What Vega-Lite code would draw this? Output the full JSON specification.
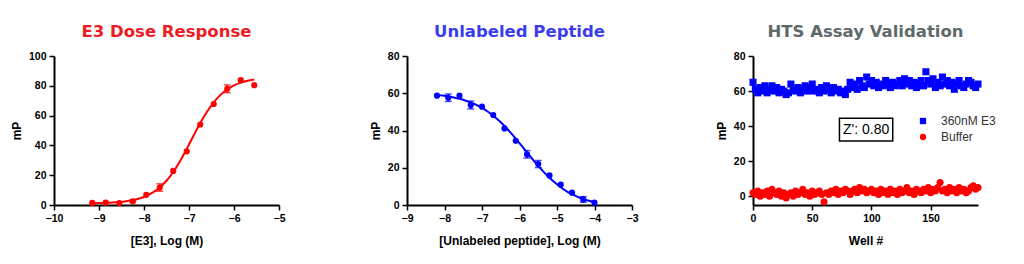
{
  "$schema": "https://vega.github.io/schema/vega-lite/v6.json",
  "background": "white",
  "padding": {"left": 10, "top": 23, "right": 5, "bottom": 5},
  "bounds": "flush",
  "spacing": 128,
  "config": {
    "view": {"stroke": null},
    "font": "Liberation Sans",
    "axis": {"grid": false, "tickCount": 20, "format": "d", "labelOverlap": false, "labelFlush": false, "domainColor": "black", "domainWidth": 2, "tickColor": "black", "tickWidth": 1.5, "tickSize": 5, "labelFont": "Liberation Sans", "labelFontSize": 10.5, "labelFontWeight": "bold", "labelColor": "black", "labelPadding": 3, "titleFont": "Liberation Sans", "titleFontSize": 12, "titleFontWeight": "bold", "titleColor": "black"},
    "axisX": {"titlePadding": 12},
    "axisY": {"titlePadding": 5},
    "title": {"font": "DejaVu Sans", "fontSize": 16.5, "fontWeight": "bold", "offset": 11}
  },
  "datasets": {
    "e3": [
      {"logM": -9.15, "mP": 1.4},
      {"logM": -8.85, "mP": 1.6},
      {"logM": -8.55, "mP": 1.3},
      {"logM": -8.25, "mP": 2.5, "lo": 1.7, "hi": 3.3},
      {"logM": -7.95, "mP": 6.8},
      {"logM": -7.65, "mP": 11.7, "lo": 9.2, "hi": 14.2},
      {"logM": -7.35, "mP": 22.9},
      {"logM": -7.05, "mP": 36.0},
      {"logM": -6.75, "mP": 54.0},
      {"logM": -6.45, "mP": 67.8},
      {"logM": -6.15, "mP": 78.0, "lo": 75.4, "hi": 80.6},
      {"logM": -5.85, "mP": 83.8},
      {"logM": -5.55, "mP": 80.4}
    ],
    "e3fit": [
      {"logM": -9.15, "mP": 1.19}, {"logM": -9.0, "mP": 1.29}, {"logM": -8.85, "mP": 1.44}, {"logM": -8.7, "mP": 1.67},
      {"logM": -8.55, "mP": 2.01}, {"logM": -8.4, "mP": 2.52}, {"logM": -8.25, "mP": 3.28}, {"logM": -8.1, "mP": 4.4},
      {"logM": -7.95, "mP": 6.04}, {"logM": -7.8, "mP": 8.41}, {"logM": -7.65, "mP": 11.74}, {"logM": -7.5, "mP": 16.26},
      {"logM": -7.35, "mP": 22.15}, {"logM": -7.2, "mP": 29.38}, {"logM": -7.05, "mP": 37.67}, {"logM": -6.9, "mP": 46.43},
      {"logM": -6.75, "mP": 54.97}, {"logM": -6.6, "mP": 62.59}, {"logM": -6.45, "mP": 68.95}, {"logM": -6.3, "mP": 73.9},
      {"logM": -6.15, "mP": 77.6}, {"logM": -6.0, "mP": 80.26}, {"logM": -5.85, "mP": 82.12}, {"logM": -5.7, "mP": 83.4},
      {"logM": -5.55, "mP": 84.26}
    ],
    "pep": [
      {"logM": -8.2, "mP": 58.7},
      {"logM": -7.9, "mP": 57.6, "lo": 55.6, "hi": 59.6},
      {"logM": -7.6, "mP": 58.7},
      {"logM": -7.3, "mP": 53.7, "lo": 51.6, "hi": 55.8},
      {"logM": -7.0, "mP": 52.8},
      {"logM": -6.7, "mP": 48.3},
      {"logM": -6.4, "mP": 41.1},
      {"logM": -6.1, "mP": 34.5},
      {"logM": -5.8, "mP": 27.2, "lo": 25.2, "hi": 29.2},
      {"logM": -5.5, "mP": 22.0, "lo": 20.1, "hi": 23.9},
      {"logM": -5.2, "mP": 15.9},
      {"logM": -4.9, "mP": 10.9},
      {"logM": -4.6, "mP": 6.6},
      {"logM": -4.3, "mP": 3.0, "lo": 1.5, "hi": 4.5},
      {"logM": -4.0, "mP": 1.25}
    ],
    "pepfit": [
      {"logM": -8.2, "mP": 59.13}, {"logM": -8.05, "mP": 58.76}, {"logM": -7.9, "mP": 58.3}, {"logM": -7.75, "mP": 57.73},
      {"logM": -7.6, "mP": 57.01}, {"logM": -7.45, "mP": 56.13}, {"logM": -7.3, "mP": 55.04}, {"logM": -7.15, "mP": 53.71},
      {"logM": -7.0, "mP": 52.1}, {"logM": -6.85, "mP": 50.19}, {"logM": -6.7, "mP": 47.94}, {"logM": -6.55, "mP": 45.34},
      {"logM": -6.4, "mP": 42.41}, {"logM": -6.25, "mP": 39.16}, {"logM": -6.1, "mP": 35.66}, {"logM": -5.95, "mP": 31.99},
      {"logM": -5.8, "mP": 28.25}, {"logM": -5.65, "mP": 24.55}, {"logM": -5.5, "mP": 20.98}, {"logM": -5.35, "mP": 17.64},
      {"logM": -5.2, "mP": 14.6}, {"logM": -5.05, "mP": 11.89}, {"logM": -4.9, "mP": 9.52}, {"logM": -4.75, "mP": 7.5},
      {"logM": -4.6, "mP": 5.79}, {"logM": -4.45, "mP": 4.38}, {"logM": -4.3, "mP": 3.21}, {"logM": -4.15, "mP": 2.26},
      {"logM": -4.0, "mP": 1.49}
    ],
    "hts": [
      {"well": 0, "mP": 65, "series": "360nM E3"}, {"well": 2, "mP": 61, "series": "360nM E3"}, {"well": 4, "mP": 59, "series": "360nM E3"}, {"well": 6, "mP": 62, "series": "360nM E3"},
      {"well": 8, "mP": 60, "series": "360nM E3"}, {"well": 10, "mP": 63, "series": "360nM E3"}, {"well": 12, "mP": 59, "series": "360nM E3"}, {"well": 14, "mP": 61, "series": "360nM E3"},
      {"well": 16, "mP": 63, "series": "360nM E3"}, {"well": 18, "mP": 60, "series": "360nM E3"}, {"well": 20, "mP": 62, "series": "360nM E3"}, {"well": 22, "mP": 59, "series": "360nM E3"},
      {"well": 24, "mP": 61, "series": "360nM E3"}, {"well": 26, "mP": 60, "series": "360nM E3"}, {"well": 28, "mP": 58, "series": "360nM E3"}, {"well": 30, "mP": 59, "series": "360nM E3"},
      {"well": 32, "mP": 64, "series": "360nM E3"}, {"well": 34, "mP": 61, "series": "360nM E3"}, {"well": 36, "mP": 60, "series": "360nM E3"}, {"well": 38, "mP": 62, "series": "360nM E3"},
      {"well": 40, "mP": 59, "series": "360nM E3"}, {"well": 42, "mP": 61, "series": "360nM E3"}, {"well": 44, "mP": 63, "series": "360nM E3"}, {"well": 46, "mP": 60, "series": "360nM E3"},
      {"well": 48, "mP": 62, "series": "360nM E3"}, {"well": 50, "mP": 64, "series": "360nM E3"}, {"well": 52, "mP": 60, "series": "360nM E3"}, {"well": 54, "mP": 61, "series": "360nM E3"},
      {"well": 56, "mP": 59, "series": "360nM E3"}, {"well": 58, "mP": 62, "series": "360nM E3"}, {"well": 60, "mP": 60, "series": "360nM E3"}, {"well": 62, "mP": 63, "series": "360nM E3"},
      {"well": 64, "mP": 61, "series": "360nM E3"}, {"well": 66, "mP": 59, "series": "360nM E3"}, {"well": 68, "mP": 62, "series": "360nM E3"}, {"well": 70, "mP": 60, "series": "360nM E3"},
      {"well": 72, "mP": 61, "series": "360nM E3"}, {"well": 74, "mP": 59, "series": "360nM E3"}, {"well": 76, "mP": 60, "series": "360nM E3"}, {"well": 78, "mP": 58, "series": "360nM E3"},
      {"well": 80, "mP": 61, "series": "360nM E3"}, {"well": 82, "mP": 65, "series": "360nM E3"}, {"well": 84, "mP": 62, "series": "360nM E3"}, {"well": 86, "mP": 64, "series": "360nM E3"},
      {"well": 88, "mP": 61, "series": "360nM E3"}, {"well": 90, "mP": 66, "series": "360nM E3"}, {"well": 92, "mP": 63, "series": "360nM E3"}, {"well": 94, "mP": 62, "series": "360nM E3"},
      {"well": 96, "mP": 68, "series": "360nM E3"}, {"well": 98, "mP": 64, "series": "360nM E3"}, {"well": 100, "mP": 66, "series": "360nM E3"}, {"well": 102, "mP": 63, "series": "360nM E3"},
      {"well": 104, "mP": 65, "series": "360nM E3"}, {"well": 106, "mP": 62, "series": "360nM E3"}, {"well": 108, "mP": 64, "series": "360nM E3"}, {"well": 110, "mP": 63, "series": "360nM E3"},
      {"well": 112, "mP": 66, "series": "360nM E3"}, {"well": 114, "mP": 64, "series": "360nM E3"}, {"well": 116, "mP": 62, "series": "360nM E3"}, {"well": 118, "mP": 65, "series": "360nM E3"},
      {"well": 120, "mP": 63, "series": "360nM E3"}, {"well": 122, "mP": 64, "series": "360nM E3"}, {"well": 124, "mP": 66, "series": "360nM E3"}, {"well": 126, "mP": 63, "series": "360nM E3"},
      {"well": 128, "mP": 67, "series": "360nM E3"}, {"well": 130, "mP": 64, "series": "360nM E3"}, {"well": 132, "mP": 66, "series": "360nM E3"}, {"well": 134, "mP": 63, "series": "360nM E3"},
      {"well": 136, "mP": 65, "series": "360nM E3"}, {"well": 138, "mP": 62, "series": "360nM E3"}, {"well": 140, "mP": 64, "series": "360nM E3"}, {"well": 142, "mP": 66, "series": "360nM E3"},
      {"well": 144, "mP": 63, "series": "360nM E3"}, {"well": 146, "mP": 71, "series": "360nM E3"}, {"well": 148, "mP": 66, "series": "360nM E3"}, {"well": 150, "mP": 64, "series": "360nM E3"},
      {"well": 152, "mP": 67, "series": "360nM E3"}, {"well": 154, "mP": 62, "series": "360nM E3"}, {"well": 156, "mP": 65, "series": "360nM E3"}, {"well": 158, "mP": 63, "series": "360nM E3"},
      {"well": 160, "mP": 68, "series": "360nM E3"}, {"well": 162, "mP": 64, "series": "360nM E3"}, {"well": 164, "mP": 66, "series": "360nM E3"}, {"well": 166, "mP": 63, "series": "360nM E3"},
      {"well": 168, "mP": 65, "series": "360nM E3"}, {"well": 170, "mP": 61, "series": "360nM E3"}, {"well": 172, "mP": 64, "series": "360nM E3"}, {"well": 174, "mP": 66, "series": "360nM E3"},
      {"well": 176, "mP": 63, "series": "360nM E3"}, {"well": 178, "mP": 62, "series": "360nM E3"}, {"well": 180, "mP": 64, "series": "360nM E3"}, {"well": 182, "mP": 66, "series": "360nM E3"},
      {"well": 184, "mP": 65, "series": "360nM E3"}, {"well": 186, "mP": 63, "series": "360nM E3"}, {"well": 188, "mP": 62, "series": "360nM E3"}, {"well": 190, "mP": 64, "series": "360nM E3"},
      {"well": 0, "mP": 2, "series": "Buffer"}, {"well": 2, "mP": 1, "series": "Buffer"}, {"well": 4, "mP": 3, "series": "Buffer"}, {"well": 6, "mP": 0, "series": "Buffer"},
      {"well": 8, "mP": 2, "series": "Buffer"}, {"well": 10, "mP": 1, "series": "Buffer"}, {"well": 12, "mP": 3, "series": "Buffer"}, {"well": 14, "mP": 0, "series": "Buffer"},
      {"well": 16, "mP": 4, "series": "Buffer"}, {"well": 18, "mP": 2, "series": "Buffer"}, {"well": 20, "mP": 1, "series": "Buffer"}, {"well": 22, "mP": 3, "series": "Buffer"},
      {"well": 24, "mP": 0, "series": "Buffer"}, {"well": 26, "mP": 2, "series": "Buffer"}, {"well": 28, "mP": -1, "series": "Buffer"}, {"well": 30, "mP": 1, "series": "Buffer"},
      {"well": 32, "mP": 2, "series": "Buffer"}, {"well": 34, "mP": 0, "series": "Buffer"}, {"well": 36, "mP": 3, "series": "Buffer"}, {"well": 38, "mP": 1, "series": "Buffer"},
      {"well": 40, "mP": 2, "series": "Buffer"}, {"well": 42, "mP": 4, "series": "Buffer"}, {"well": 44, "mP": 1, "series": "Buffer"}, {"well": 46, "mP": 2, "series": "Buffer"},
      {"well": 48, "mP": 0, "series": "Buffer"}, {"well": 50, "mP": 3, "series": "Buffer"}, {"well": 52, "mP": 1, "series": "Buffer"}, {"well": 54, "mP": 2, "series": "Buffer"},
      {"well": 56, "mP": 3, "series": "Buffer"}, {"well": 58, "mP": 1, "series": "Buffer"}, {"well": 60, "mP": -3.2, "series": "Buffer"}, {"well": 62, "mP": 2, "series": "Buffer"},
      {"well": 64, "mP": 1, "series": "Buffer"}, {"well": 66, "mP": 3, "series": "Buffer"}, {"well": 68, "mP": 2, "series": "Buffer"}, {"well": 70, "mP": 4, "series": "Buffer"},
      {"well": 72, "mP": 1, "series": "Buffer"}, {"well": 74, "mP": 3, "series": "Buffer"}, {"well": 76, "mP": 2, "series": "Buffer"}, {"well": 78, "mP": 4, "series": "Buffer"},
      {"well": 80, "mP": 3, "series": "Buffer"}, {"well": 82, "mP": 1, "series": "Buffer"}, {"well": 84, "mP": 3, "series": "Buffer"}, {"well": 86, "mP": 4, "series": "Buffer"},
      {"well": 88, "mP": 2, "series": "Buffer"}, {"well": 90, "mP": 5, "series": "Buffer"}, {"well": 92, "mP": 3, "series": "Buffer"}, {"well": 94, "mP": 4, "series": "Buffer"},
      {"well": 96, "mP": 2, "series": "Buffer"}, {"well": 98, "mP": 3, "series": "Buffer"}, {"well": 100, "mP": 4, "series": "Buffer"}, {"well": 102, "mP": 2, "series": "Buffer"},
      {"well": 104, "mP": 3, "series": "Buffer"}, {"well": 106, "mP": 1, "series": "Buffer"}, {"well": 108, "mP": 4, "series": "Buffer"}, {"well": 110, "mP": 2, "series": "Buffer"},
      {"well": 112, "mP": 3, "series": "Buffer"}, {"well": 114, "mP": 1, "series": "Buffer"}, {"well": 116, "mP": 4, "series": "Buffer"}, {"well": 118, "mP": 2, "series": "Buffer"},
      {"well": 120, "mP": 3, "series": "Buffer"}, {"well": 122, "mP": 1, "series": "Buffer"}, {"well": 124, "mP": 4, "series": "Buffer"}, {"well": 126, "mP": 2, "series": "Buffer"},
      {"well": 128, "mP": 3, "series": "Buffer"}, {"well": 130, "mP": 5, "series": "Buffer"}, {"well": 132, "mP": 2, "series": "Buffer"}, {"well": 134, "mP": 3, "series": "Buffer"},
      {"well": 136, "mP": 1, "series": "Buffer"}, {"well": 138, "mP": 4, "series": "Buffer"}, {"well": 140, "mP": 3, "series": "Buffer"}, {"well": 142, "mP": 2, "series": "Buffer"},
      {"well": 144, "mP": 4, "series": "Buffer"}, {"well": 146, "mP": 3, "series": "Buffer"}, {"well": 148, "mP": 5, "series": "Buffer"}, {"well": 150, "mP": 2, "series": "Buffer"},
      {"well": 152, "mP": 4, "series": "Buffer"}, {"well": 154, "mP": 3, "series": "Buffer"}, {"well": 156, "mP": 5, "series": "Buffer"}, {"well": 158, "mP": 7.8, "series": "Buffer"},
      {"well": 160, "mP": 3, "series": "Buffer"}, {"well": 162, "mP": 4, "series": "Buffer"}, {"well": 164, "mP": 2, "series": "Buffer"}, {"well": 166, "mP": 5, "series": "Buffer"},
      {"well": 168, "mP": 3, "series": "Buffer"}, {"well": 170, "mP": 4, "series": "Buffer"}, {"well": 172, "mP": 2, "series": "Buffer"}, {"well": 174, "mP": 5, "series": "Buffer"},
      {"well": 176, "mP": 3, "series": "Buffer"}, {"well": 178, "mP": 4, "series": "Buffer"}, {"well": 180, "mP": 2, "series": "Buffer"}, {"well": 182, "mP": 3, "series": "Buffer"},
      {"well": 184, "mP": 5, "series": "Buffer"}, {"well": 186, "mP": 6, "series": "Buffer"}, {"well": 188, "mP": 4, "series": "Buffer"}, {"well": 190, "mP": 5, "series": "Buffer"}
    ],
    "note": [{"label": "Z': 0.80"}]
  },
  "hconcat": [
    {
      "width": 225, "height": 149,
      "title": {"text": "E3 Dose Response", "color": "#ed1c24"},
      "layer": [
        {
          "data": {"name": "e3fit"},
          "mark": {"type": "line", "color": "#ff0000", "strokeWidth": 2, "interpolate": "monotone"},
          "encoding": {
            "x": {"field": "logM", "type": "quantitative", "scale": {"domain": [-10, -5], "nice": false}, "axis": {"values": [-10, -9, -8, -7, -6, -5], "tickCount": 20, "format": "d", "title": "[E3], Log (M)"}},
            "y": {"field": "mP", "type": "quantitative", "scale": {"domain": [0, 100], "nice": false}, "axis": {"values": [0, 20, 40, 60, 80, 100], "tickCount": 20, "format": "d", "title": "mP"}}
          }
        },
        {
          "data": {"name": "e3"},
          "transform": [{"filter": "isValid(datum.lo)"}],
          "mark": {"type": "errorbar", "color": "#ff0000", "thickness": 1.5, "ticks": {"size": 7, "thickness": 1.5}},
          "encoding": {
            "x": {"field": "logM", "type": "quantitative", "title": "[E3], Log (M)"},
            "y": {"field": "lo", "type": "quantitative", "title": "mP"},
            "y2": {"field": "hi"}
          }
        },
        {
          "data": {"name": "e3"},
          "mark": {"type": "point", "filled": true, "color": "#ff0000", "opacity": 1, "size": 38},
          "encoding": {
            "x": {"field": "logM", "type": "quantitative", "title": "[E3], Log (M)"},
            "y": {"field": "mP", "type": "quantitative", "title": "mP"}
          }
        }
      ]
    },
    {
      "hconcat": [
        {
          "width": 225, "height": 149,
          "title": {"text": "Unlabeled Peptide", "color": "#3c3cef"},
          "layer": [
            {
              "data": {"name": "pepfit"},
              "mark": {"type": "line", "color": "#0000ff", "strokeWidth": 2, "interpolate": "monotone"},
              "encoding": {
                "x": {"field": "logM", "type": "quantitative", "scale": {"domain": [-9, -3], "nice": false}, "axis": {"values": [-9, -8, -7, -6, -5, -4, -3], "tickCount": 20, "format": "d", "title": "[Unlabeled peptide], Log (M)"}},
                "y": {"field": "mP", "type": "quantitative", "scale": {"domain": [0, 80], "nice": false}, "axis": {"values": [0, 20, 40, 60, 80], "tickCount": 20, "format": "d", "title": "mP"}}
              }
            },
            {
              "data": {"name": "pep"},
              "transform": [{"filter": "isValid(datum.lo)"}],
              "mark": {"type": "errorbar", "color": "#0000ff", "thickness": 1.5, "ticks": {"size": 7, "thickness": 1.5}},
              "encoding": {
                "x": {"field": "logM", "type": "quantitative", "title": "[Unlabeled peptide], Log (M)"},
                "y": {"field": "lo", "type": "quantitative", "title": "mP"},
                "y2": {"field": "hi"}
              }
            },
            {
              "data": {"name": "pep"},
              "mark": {"type": "point", "filled": true, "color": "#0000ff", "opacity": 1, "size": 38},
              "encoding": {
                "x": {"field": "logM", "type": "quantitative", "title": "[Unlabeled peptide], Log (M)"},
                "y": {"field": "mP", "type": "quantitative", "title": "mP"}
              }
            }
          ]
        },
        {
          "width": 225, "height": 149,
          "title": {"text": "HTS Assay Validation", "color": "#5e6a6b"},
          "layer": [
            {
              "data": {"name": "hts"},
              "mark": {"type": "point", "filled": true, "opacity": 1, "size": 50},
              "encoding": {
                "x": {"field": "well", "type": "quantitative", "scale": {"domain": [0, 190], "nice": false}, "axis": {"values": [0, 50, 100, 150], "tickCount": 20, "format": "d", "title": "Well #"}},
                "y": {"field": "mP", "type": "quantitative", "scale": {"domain": [-5, 80], "nice": false}, "axis": {"values": [0, 20, 40, 60, 80], "tickCount": 20, "format": "d", "title": "mP"}},
                "color": {"field": "series", "type": "nominal", "scale": {"domain": ["360nM E3", "Buffer"], "range": ["#0000ff", "#ff0000"]},
                  "legend": {"orient": "none", "legendX": 863, "legendY": 59, "title": null, "labelFont": "Liberation Sans", "labelFontSize": 12, "labelFontWeight": "normal", "labelColor": "#333333", "labelOffset": 12, "rowPadding": 4, "symbolSize": 40, "padding": 0}},
                "shape": {"field": "series", "type": "nominal", "scale": {"domain": ["360nM E3", "Buffer"], "range": ["square", "circle"]},
                  "legend": {"orient": "none", "legendX": 863, "legendY": 59, "title": null, "labelFont": "Liberation Sans", "labelFontSize": 12, "labelFontWeight": "normal", "labelColor": "#333333", "labelOffset": 12, "rowPadding": 4, "symbolSize": 40, "padding": 0}}
              }
            },
            {
              "data": {"name": "note"},
              "mark": {"type": "rect", "fill": "white", "stroke": "black", "strokeWidth": 1.5},
              "encoding": {
                "x": {"datum": 73}, "x2": {"datum": 118},
                "y": {"datum": 31.5}, "y2": {"datum": 44.5}
              }
            },
            {
              "data": {"name": "note"},
              "mark": {"type": "text", "font": "Liberation Sans", "fontSize": 14, "color": "black"},
              "encoding": {
                "x": {"datum": 95.5}, "y": {"datum": 38},
                "text": {"field": "label"}
              }
            }
          ]
        }
      ],
      "spacing": 121,
      "bounds": "flush"
    }
  ]
}
